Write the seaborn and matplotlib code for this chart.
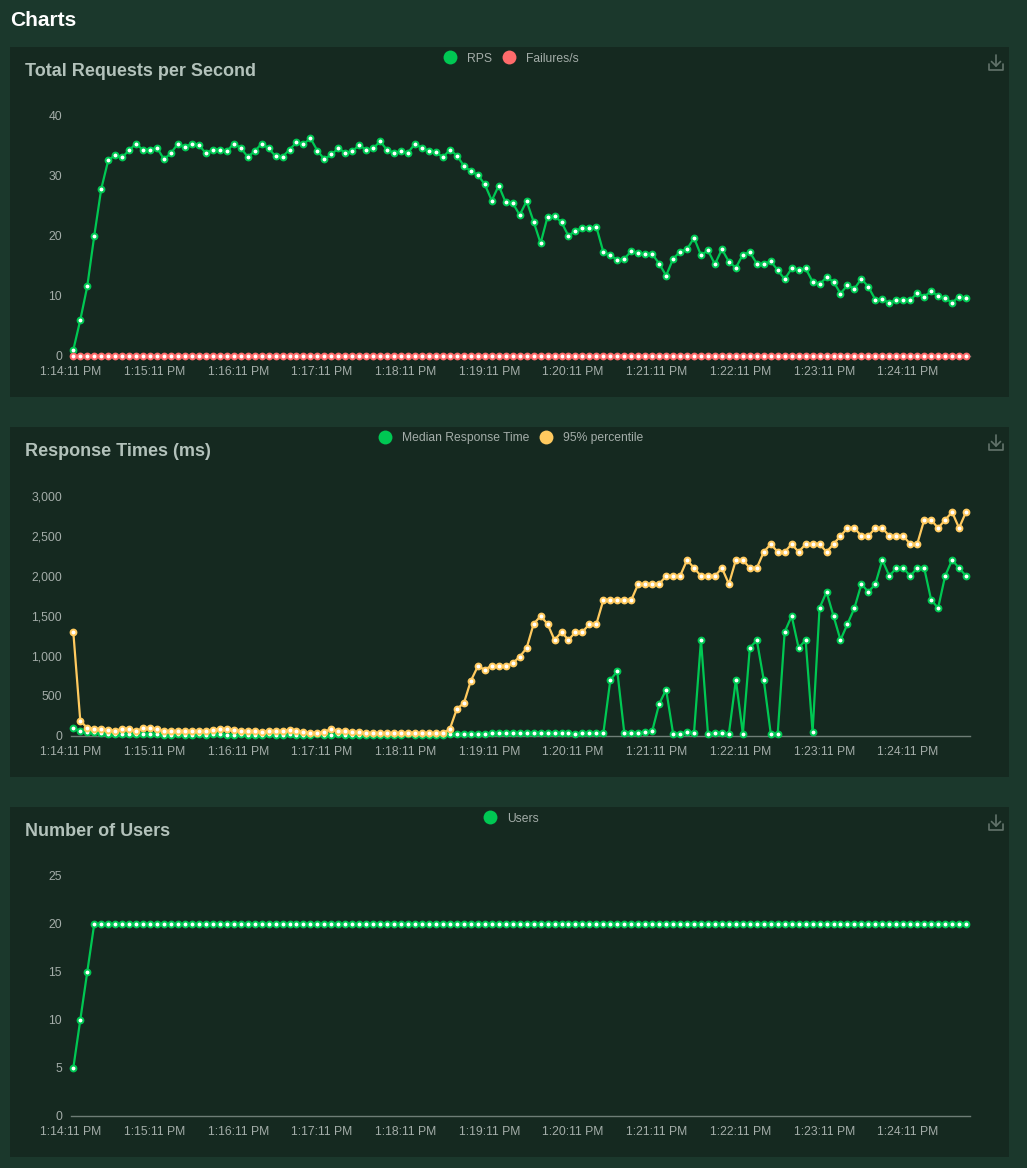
import numpy as np
import matplotlib
matplotlib.use("Agg")
import matplotlib.pyplot as plt
from matplotlib.lines import Line2D
from matplotlib.patches import Rectangle
from matplotlib.ticker import FuncFormatter
import seaborn as sns

# ---- data ----
time_labels = ["1:14:11 PM", "1:15:11 PM", "1:16:11 PM", "1:17:11 PM", "1:18:11 PM",
               "1:19:11 PM", "1:20:11 PM", "1:21:11 PM", "1:22:11 PM", "1:23:11 PM",
               "1:24:11 PM"]
# seconds after 1:14:11, one sample every 5 s
sample_seconds = 1.65 + 5 * np.arange(129)

rps = [1, 6, 11.6, 20, 27.8, 32.6, 33.5, 33.1, 34.3, 35.4,
       34.3, 34.4, 34.7, 32.8, 33.8, 35.4, 34.8, 35.4, 35.2, 33.8,
       34.4, 34.4, 34.1, 35.4, 34.7, 33.2, 34.1, 35.4, 34.6, 33.3,
       33.2, 34.4, 35.6, 35.3, 36.3, 34.2, 32.8, 33.6, 34.6, 33.9,
       34.1, 35.2, 34.3,
       34.6, 35.8, 34.3, 33.9, 34.1, 33.9, 35.4, 34.6, 34.2, 34.0,
       33.1, 34.4, 33.4, 31.7, 30.8, 30.2, 28.6, 25.9, 28.4, 25.6,
       25.5, 23.5, 25.8, 22.4, 18.8, 23.2, 23.3, 22.3, 20.0, 20.9,
       21.3, 21.4, 21.5, 17.3, 16.8, 16.0, 16.2, 17.5, 17.1, 17.0,
       17.0, 15.4, 13.4, 16.2, 17.4, 17.8, 19.7, 16.8, 17.6, 15.3,
       17.8, 15.7, 14.7, 16.9, 17.3, 15.4, 15.3, 15.8, 14.3, 12.8,
       14.6, 14.3, 14.6, 12.4, 12.0, 13.1, 12.4, 10.4, 11.8, 11.2,
       12.9, 11.5, 9.4, 9.5, 8.8, 9.4, 9.4, 9.3, 10.5, 9.9,
       10.8, 10.0, 9.6, 8.9, 9.9, 9.7]
failures = [0] * 129

median_ms = [100, 60, 50, 45, 40, 25, 25, 25, 20, 25,
             20, 20, 20, 15, 15, 20, 15, 15, 20, 15,
             20, 20, 15, 15, 20, 15, 15, 15, 20, 15,
             15, 20, 15, 15, 15, 20, 15, 15, 20, 15,
             15, 15, 15, 16, 16, 16, 16, 16, 20, 16,
             16, 16, 16, 16, 20, 20, 20, 25, 25, 29,
             33, 33, 33, 33, 37, 33, 37, 41, 37, 33,
             33, 33, 29, 33, 33, 33, 35, 700, 810, 40,
             40, 40, 50, 60, 400, 580, 30, 30, 50, 40,
             1200, 30, 40, 40, 30, 700, 30, 1100, 1200, 700,
             30, 30, 1300, 1500, 1100, 1200, 50, 1600, 1800, 1500,
             1200, 1400, 1600, 1900, 1800, 1900, 2200, 2000, 2100, 2100,
             2000, 2100, 2100, 1700, 1600, 2000, 2200, 2100, 2000]

p95_ms = [1300, 190, 100, 90, 90, 75, 65, 90, 90, 60,
          100, 100, 90, 60, 60, 62, 62, 62, 62, 62,
          75, 91, 91, 75, 62, 62, 62, 50, 62, 62,
          62, 75, 62, 50, 41, 41, 50, 91, 62, 62,
          50, 50, 41, 33, 33, 33, 33, 33, 41, 41,
          33, 33, 33, 33, 90, 340, 410, 690, 870, 830,
          880, 870, 870, 910, 990, 1100, 1400, 1500, 1400, 1200,
          1300, 1200, 1300, 1300, 1400, 1400, 1700, 1700, 1700, 1700,
          1700, 1900, 1900, 1900, 1900, 2000, 2000, 2000, 2200, 2100,
          2000, 2000, 2000, 2100, 1900, 2200, 2200, 2100, 2100, 2300,
          2400, 2300, 2300, 2400, 2300, 2400, 2400, 2400, 2300, 2400,
          2500, 2600, 2600, 2500, 2500, 2600, 2600, 2500, 2500, 2500,
          2400, 2400, 2700, 2700, 2600, 2700, 2800, 2600, 2800]

users = [5, 10, 15] + [20] * 126

# ---- style ----
BG = "#1b382c"
PANEL = "#152920"
GREEN = "#00c853"
RED = "#ff6b6b"
YELLOW = "#ffca5f"
AXIS = "#6e7d76"
TICKTXT = "#a4ada9"
TITLE = "#b3c2bb"

sns.set_style("dark")
plt.rcParams["font.family"] = ["Liberation Sans", "DejaVu Sans"]

W, H = 1027, 1168
fig = plt.figure(figsize=(W / 100, H / 100), dpi=100, facecolor=BG)

# background layer in pixel coordinates
bg = fig.add_axes([0, 0, 1, 1], zorder=0)
bg.set_xlim(0, W)
bg.set_ylim(H, 0)
bg.axis("off")
bg.text(10, 25.5, "Charts", fontsize=15, fontweight="bold", color="white")

panels = [
    ("Total Requests per Second", 0, 40, [0, 10, 20, 30, 40],
     [("RPS", rps, GREEN), ("Failures/s", failures, RED)]),
    ("Response Times (ms)", 380, 3000, [0, 500, 1000, 1500, 2000, 2500, 3000],
     [("Median Response Time", median_ms, GREEN), ("95% percentile", p95_ms, YELLOW)]),
    ("Number of Users", 760, 25, [0, 5, 10, 15, 20, 25],
     [("Users", users, GREEN)]),
]

x_end = 644.5
for title, off, ymax, yticks, series in panels:
    bg.add_patch(Rectangle((10, 47 + off), 999, 350, color=PANEL, lw=0))
    bg.text(25, 76 + off, title, fontsize=13, fontweight="bold", color=TITLE)
    # download icon
    ic = dict(color="#62736b", lw=1.2)
    bg.plot([996, 996], [55 + off, 66 + off], **ic)
    bg.plot([991.5, 996, 1000.5], [61.5 + off, 66 + off, 61.5 + off], **ic)
    bg.plot([989, 989, 1003, 1003], [64 + off, 70 + off, 70 + off, 64 + off], **ic)

    ax = fig.add_axes([71 / W, 1 - (356 + off) / H, 899 / W, 240 / H], zorder=1)
    ax.set_facecolor("none")
    for name, vals, col in series:
        sns.lineplot(x=sample_seconds, y=vals, ax=ax, color=col, linewidth=1.6,
                     marker="o", markersize=4.2, markerfacecolor="white",
                     markeredgecolor=col, markeredgewidth=1.4, clip_on=False,
                     zorder=3)
    ax.set_xlim(0, x_end)
    ax.set_ylim(0, ymax)
    ax.set_xticks(list(np.arange(0, 601, 60)) + [x_end])
    ax.set_xticklabels(time_labels + [""])
    ax.set_yticks(yticks)
    if ymax >= 1000:
        ax.yaxis.set_major_formatter(FuncFormatter(lambda v, p: f"{int(v):,}"))
    ax.set_xlabel("")
    ax.set_ylabel("")
    ax.grid(False)
    for s in ["top", "right", "left"]:
        ax.spines[s].set_visible(False)
    ax.spines["bottom"].set_color(AXIS)
    ax.spines["bottom"].set_linewidth(1)
    ax.tick_params(axis="x", length=5, width=1, color=AXIS, pad=2.5,
                   labelsize=8.7, labelcolor=TICKTXT)
    ax.tick_params(axis="y", length=0, pad=6.5, labelsize=8.7, labelcolor=TICKTXT)
    for lab in ax.get_xticklabels():
        lab.set_x(lab.get_position()[0])

    handles = [Line2D([], [], marker="o", linestyle="", markersize=10,
                      color=col, markeredgewidth=0) for _, _, col in series]
    ax.legend(handles, [n for n, _, _ in series], loc="center",
              bbox_to_anchor=(510.5 / W, 1 - (58.5 + off) / H),
              bbox_transform=fig.transFigure, ncol=len(series), frameon=False,
              fontsize=8.7, labelcolor=TICKTXT, handlelength=1.2,
              handletextpad=0.8, columnspacing=0.8)

fig.savefig("out.png", dpi=100, facecolor=BG)
